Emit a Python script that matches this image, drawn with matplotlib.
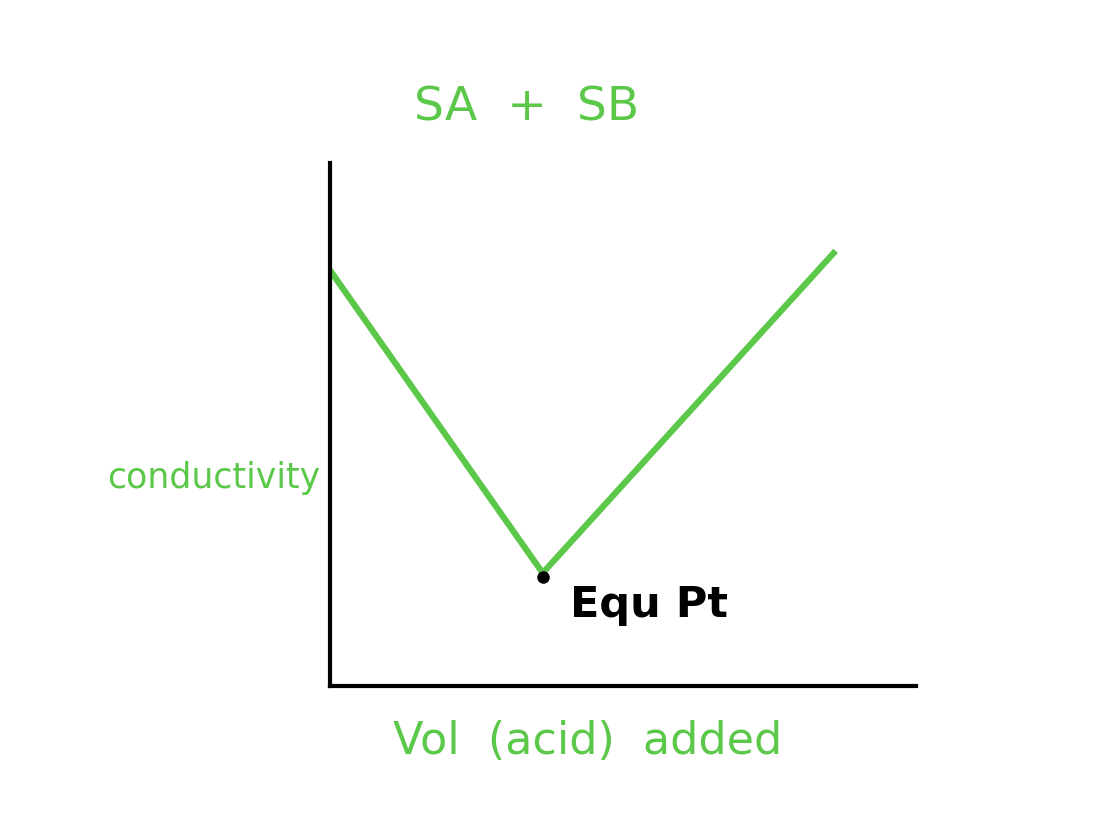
import matplotlib
matplotlib.use('Agg')
import matplotlib.pyplot as plt

# sketch data: conductivity vs volume of acid added (strong acid + strong base)
vol = [0.0, 3.63, 8.63]
cond = [7.95, 2.16, 8.32]
equ_vol = 3.63
equ_cond = 2.08

green = '#5cc84a'

fig = plt.figure(figsize=(11.16, 8.24), dpi=100)
ax = fig.add_axes([0.2957, 0.1675, 0.525, 0.6347])

ax.plot(vol, cond, '-', color=green, linewidth=4.5, solid_capstyle='butt')
ax.plot([equ_vol], [equ_cond], 'o', color='black', markersize=8)
ax.annotate('Equ Pt', xy=(equ_vol, equ_cond), xytext=(5.45, 1.55),
            fontsize=31, fontweight='bold', color='black', ha='center', va='center')

ax.set_xlim(0, 10)
ax.set_ylim(0, 10)
ax.spines['top'].set_visible(False)
ax.spines['right'].set_visible(False)
ax.spines['left'].set_linewidth(3)
ax.spines['bottom'].set_linewidth(3)
ax.set_xticks([])
ax.set_yticks([])

ax.set_title('SA  +  SB', fontsize=34, color=green, x=0.335, y=1.065)
ax.set_xlabel('Vol  (acid)  added', fontsize=32, color=green)
ax.xaxis.set_label_coords(0.44, -0.065)
ax.set_ylabel('conductivity', fontsize=25, color=green, rotation=0, ha='right', va='center')
ax.yaxis.set_label_coords(-0.017, 0.398)

fig.savefig('out.png', dpi=100)
